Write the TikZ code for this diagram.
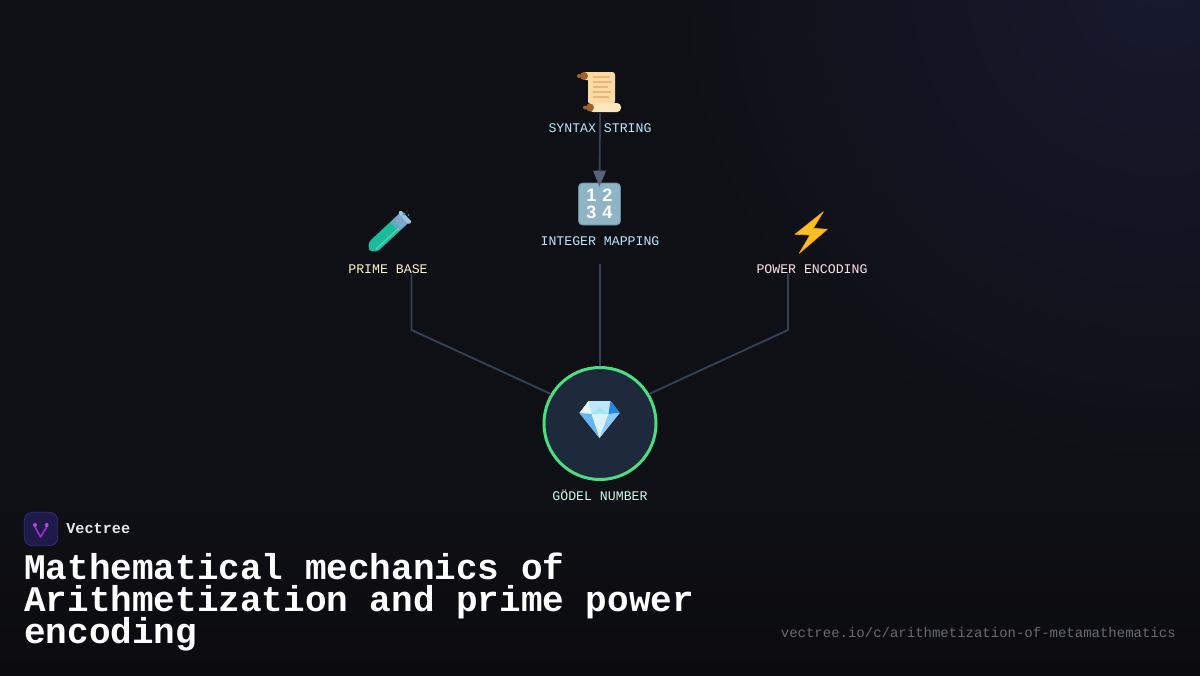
\documentclass[tikz,border=0pt]{standalone}
\usepackage{fontspec}
\setmainfont{Liberation Mono}
\newfontfamily\keyfont{Liberation Sans}
\usetikzlibrary{arrows.meta, positioning, calc}
\definecolor{pagebg}{HTML}{0F1015}
\definecolor{pagelow}{HTML}{0B0B0F}
\definecolor{glowblue}{HTML}{17192E}
\definecolor{edgeslate}{HTML}{334155}
\definecolor{tipslate}{HTML}{56627A}
\definecolor{skytext}{HTML}{BAE6FD}
\definecolor{ambertext}{HTML}{FEF3C7}
\definecolor{rosetext}{HTML}{FEE2E2}
\definecolor{minttext}{HTML}{D1FAE5}
\definecolor{goedelfill}{HTML}{1E293B}
\definecolor{goedelring}{HTML}{4ADE80}
\definecolor{urlgrey}{HTML}{666A72}
\definecolor{brandtext}{HTML}{E5E7EB}
\definecolor{logofill}{HTML}{1E1B4B}
\definecolor{logoring}{HTML}{312E81}
\definecolor{logomark}{HTML}{A32BD6}
\definecolor{paperlight}{HTML}{FDD9A3}
\definecolor{paperroll}{HTML}{FEE7BC}
\definecolor{paperink}{HTML}{EBB677}
\definecolor{knobbrown}{HTML}{A0622A}
\definecolor{keyblue}{HTML}{8FB4C3}
\definecolor{keyedge}{HTML}{5E8899}
\definecolor{tubeteal}{HTML}{1ABC9C}
\definecolor{tubeglass}{HTML}{7FA6CC}
\definecolor{boltyellow}{HTML}{FBBF24}
\definecolor{boltorange}{HTML}{F59E0B}
\tikzset{
    labelnode/.style={inner sep=0pt, font=\fontsize{9.9}{12}\selectfont},
    iconnode/.style={inner sep=0pt, minimum size=33pt},
    linkedge/.style={draw=edgeslate, line width=1.4pt},
    scrollicon/.pic={
        \fill[paperlight, rounded corners=2] (-12,-19) -- (15,-19) -- (15,13) -- (-12,13) -- cycle;
        \fill[paperlight, rounded corners=3] (-18,-19) rectangle (-6,-11);
        \foreach \rowy/\rowx in {-14/10, -9/12, -4/8, 1/11, 6/9}
            \draw[paperink, line width=0.8pt] (-7,\rowy) -- (\rowx,\rowy);
        \fill[paperroll, rounded corners=3] (-11,12) rectangle (21,21);
        \fill[knobbrown] (-16,-15) circle (4) (-10,16.5) circle (4);
        \fill[knobbrown] (-21,-15) circle (2) (-15,16.5) circle (2);
    },
    tubeicon/.pic={
        \begin{scope}[rotate=43]
            \fill[tubeteal, rounded corners=6] (-25,-6.5) rectangle (16,6.5);
            \fill[tubeglass!60!tubeteal] (9,-6.5) rectangle (13,6.5);
            \fill[tubeglass] (13,-6.5) rectangle (22,6.5);
            \fill[tubeglass!70!white, rounded corners=1] (21,-8) rectangle (25,8);
            \fill[white, opacity=0.25] (-20,3) rectangle (11,4.5);
        \end{scope}
        \fill[tubeteal] (16,-19) circle (1.7) (20.5,-18) circle (0.8);
    },
    bolticon/.pic={
        \fill[boltyellow, draw=boltorange, line width=0.5pt, line join=round]
            (12.3,-21.3) -- (-16,1.3) -- (-1,2) -- (-11.7,20.3) -- (16.3,-3.7) -- (2.3,-4.7) -- cycle;
    },
    gemicon/.pic={
        \fill[HTML=BFE6FB] (-11,-12) -- (11,-12) -- (20,0) -- (0,25) -- (-20,0) -- cycle;
        \fill[HTML=E3F5FF] (-11,-12) -- (-20,0) -- (-8,1) -- cycle;
        \fill[HTML=1E88E5] (11,-12) -- (20,0) -- (9,1) -- cycle;
        \fill[HTML=64B5F6] (-20,0) -- (-8,1) -- (0,25) -- cycle;
        \fill[HTML=DDF3FC] (-8,1) -- (9,1) -- (0,25) -- cycle;
        \fill[HTML=90CAF9] (20,0) -- (9,1) -- (0,25) -- cycle;
        \fill[HTML=A7E3EE] (-8,1) -- (0,-6) -- (9,1) -- cycle;
    },
    HTML/.code={\definecolor{gemshade}{HTML}{#1}\tikzset{color=gemshade}},
}
\begin{document}
\begin{tikzpicture}[x=0.75pt, y=-0.75pt]
    \useasboundingbox (0,0) rectangle (1200,675);
    \begin{scope}
        \clip (0,0) rectangle (1200,675);
        \fill[pagebg] (0,0) rectangle (1200,675);
        \shade[inner color=glowblue, outer color=pagebg] (1160,-20) circle (500);
        \shade[top color=pagebg, bottom color=pagelow] (0,490) rectangle (1200,675);
    \end{scope}

    \node[iconnode] (scroll) at (600,91) {};
    \pic at (scroll.center) {scrollicon};
    \node[labelnode, text=skytext] (syntaxlabel) at (600,128) {SYNTAX STRING};

    \node[iconnode, minimum size=31.5pt, fill=keyblue, draw=keyedge, line width=0.6pt, rounded corners=3pt,
          align=center, text=white, font=\keyfont\bfseries\fontsize{13.5}{15}\selectfont] (mapping) at (599.5,204) {1\,\,2\\[-2.2pt]3\,\,4};
    \node[labelnode, text=skytext] (mappinglabel) at (600,241) {INTEGER MAPPING};

    \node[iconnode] (tube) at (388,233) {};
    \pic at (tube.center) {tubeicon};
    \node[labelnode, text=ambertext] (primelabel) at (388,269) {PRIME BASE};

    \node[iconnode] (bolt) at (811,233) {};
    \pic at (bolt.center) {bolticon};
    \node[labelnode, text=rosetext] (powerlabel) at (812,269) {POWER ENCODING};

    \node[circle, minimum size=84pt, inner sep=0pt, fill=goedelfill, draw=goedelring, line width=2.25pt] (goedel) at (600,423.5) {};
    \pic at (599.5,413) {gemicon};
    \node[labelnode, text=minttext] (goedellabel) at (600,495) {GÖDEL NUMBER};

    \coordinate (primebend) at (411.5,330);
    \coordinate (powerbend) at (788,330);

    \draw[linkedge, -{Triangle[length=12pt, width=9.5pt, color=tipslate]}, shorten >=-3pt] (scroll.south) -- (mapping.north);
    \draw[linkedge, shorten <=14pt] (mappinglabel.south) -- (goedel.north);
    \draw[linkedge, line join=round] (primelabel.south -| primebend) -- (primebend) -- (goedel.149);
    \draw[linkedge, line join=round] (powerlabel.south -| powerbend) -- (powerbend) -- (goedel.31);

    \node[minimum size=25pt, inner sep=0pt, fill=logofill, draw=logoring, line width=0.6pt, rounded corners=6pt] (logo) at (41,529) {};
    \draw[logomark, line width=1.2pt, line join=round] (35,527) -- (40.5,537) -- (46.7,527);
    \fill[logomark!80!pink] (35,525) circle (2) (46.7,525) circle (2);
    \node[right=6pt of logo, inner sep=0pt, text=brandtext, yshift=0.6pt, font=\bfseries\fontsize{11.4}{14}\selectfont] (brand) {Vectree};

    \node[anchor=north west, inner sep=0pt, align=left, text=white, font=\bfseries\fontsize{27}{24.3}\selectfont] (title) at (24,552.5) {\setlength{\lineskiplimit}{-20pt}Mathematical mechanics of\\[-0.4pt]Arithmetization and prime power\\[-2pt]encoding};
    \node[anchor=east, inner sep=0pt, text=urlgrey, font=\fontsize{10.5}{12}\selectfont] (url) at (1176,632.5) {vectree.io/c/arithmetization-of-metamathematics};
\end{tikzpicture}
\end{document}
